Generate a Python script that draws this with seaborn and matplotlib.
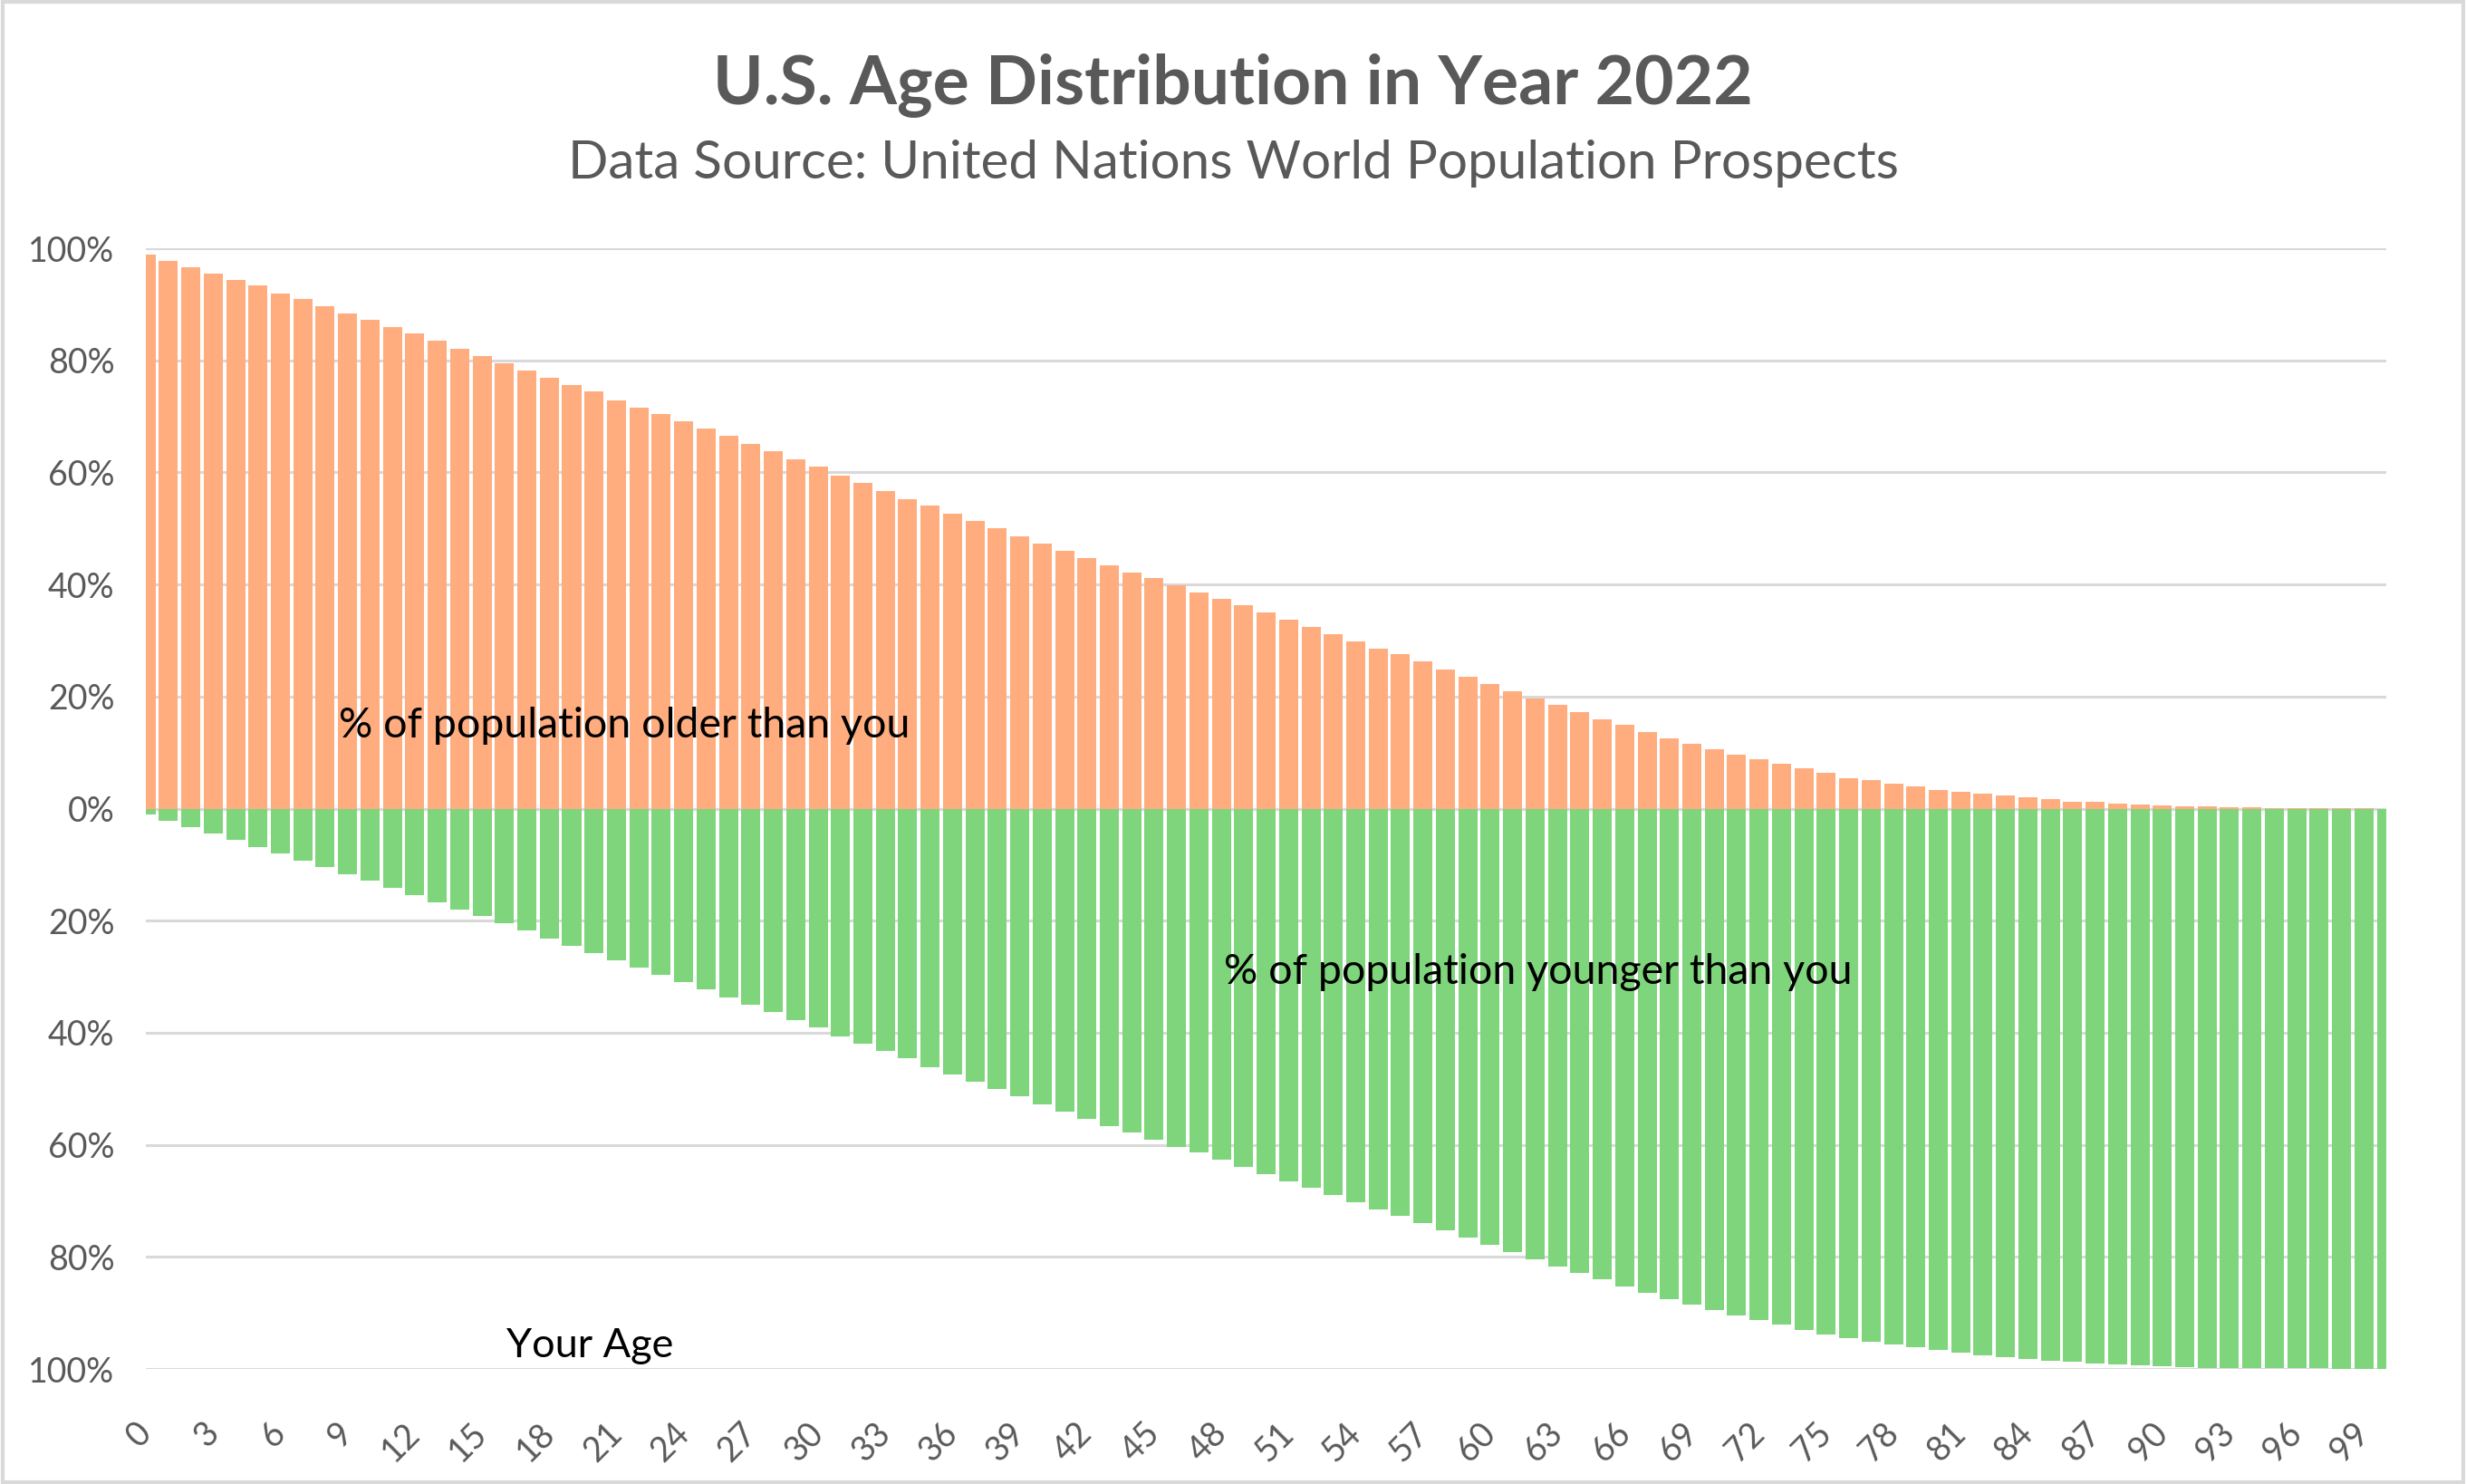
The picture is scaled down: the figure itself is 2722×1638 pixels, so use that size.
import numpy as np
import pandas as pd
import seaborn as sns
import matplotlib.pyplot as plt
import matplotlib.transforms as mtransforms
from matplotlib.patches import Rectangle

# ages 0..100 (age 100 is the half-clipped last bar)
ages = list(range(0, 101))

# % of population older than you
older = [98.9, 97.8, 96.6, 95.5, 94.4, 93.3, 92.0, 90.9, 89.6, 88.4,
         87.2, 85.9, 84.8, 83.5, 82.1, 80.8, 79.5, 78.2, 76.9, 75.6,
         74.4, 72.9, 71.6, 70.4, 69.1, 67.8, 66.5, 65.1, 63.8, 62.3,
         61.0, 59.5, 58.1, 56.6, 55.3, 54.1, 52.6, 51.3, 50.0, 48.6,
         47.3, 46.0, 44.7, 43.4, 42.2, 41.1, 39.8, 38.6, 37.5, 36.3,
         35.0, 33.7, 32.4, 31.1, 29.9, 28.6, 27.6, 26.3, 24.8, 23.6,
         22.3, 21.0, 19.7, 18.5, 17.2, 16.0, 14.9, 13.6, 12.6, 11.5,
         10.6, 9.6, 8.8, 8.0, 7.2, 6.4, 5.5, 5.1, 4.4, 3.9,
         3.4, 3.0, 2.6, 2.3, 2.0, 1.7, 1.3, 1.2, 0.9, 0.7,
         0.5, 0.4, 0.4, 0.2, 0.2, 0.1, 0.1, 0.05, 0.05, 0.03,
         0.0]

# % of population younger than you
younger = [1.1, 2.2, 3.3, 4.4, 5.6, 6.9, 8.0, 9.3, 10.4, 11.7,
           12.8, 14.1, 15.4, 16.7, 18.0, 19.2, 20.5, 21.8, 23.2, 24.5,
           25.8, 27.1, 28.4, 29.7, 31.0, 32.2, 33.7, 35.0, 36.3, 37.7,
           39.1, 40.6, 41.9, 43.3, 44.6, 46.1, 47.4, 48.7, 50.1, 51.4,
           52.7, 54.0, 55.3, 56.6, 57.8, 59.1, 60.3, 61.4, 62.7, 63.9,
           65.2, 66.5, 67.7, 69.0, 70.3, 71.5, 72.7, 74.0, 75.3, 76.6,
           77.8, 79.1, 80.4, 81.7, 82.8, 84.0, 85.3, 86.4, 87.5, 88.5,
           89.5, 90.4, 91.2, 92.0, 93.0, 93.8, 94.5, 95.1, 95.6, 96.1,
           96.6, 97.1, 97.5, 97.9, 98.2, 98.5, 98.7, 99.0, 99.2, 99.35,
           99.5, 99.7, 99.8, 99.8, 99.9, 99.9, 99.9, 99.9, 100.0, 100.0,
           100.0]

x_ticks = list(range(0, 100, 3))
y_ticks = [-100, -80, -60, -40, -20, 0, 20, 40, 60, 80, 100]

df = pd.DataFrame({"age": ages, "older": older, "younger": [-v for v in younger]})

sns.set_theme(style="white")
plt.rcParams["font.family"] = ["Lato", "DejaVu Sans"]

grey = "#595959"
fig = plt.figure(figsize=(27.22, 16.38), dpi=100)
ax = fig.add_axes([0.0592, 0.0775, 0.9085, 0.7552])

sns.barplot(data=df, x="age", y="older", color="#FFAC7F", saturation=1,
            width=0.85, linewidth=0, ax=ax, zorder=2)
sns.barplot(data=df, x="age", y="younger", color="#7ED57B", saturation=1,
            width=0.85, linewidth=0, ax=ax, zorder=2)

ax.set_xlim(0, 100)
ax.set_ylim(-100, 100)
ax.set_yticks(y_ticks)
ax.set_yticklabels([f"{abs(v)}%" for v in y_ticks], color=grey, fontsize=27)
ax.set_xticks(x_ticks)
ax.set_xticklabels([str(v) for v in x_ticks], rotation=45, ha="right",
                   color=grey, fontsize=27)
ax.tick_params(axis="x", length=0, pad=32)
ax.tick_params(axis="y", length=0, pad=25)
shift = mtransforms.ScaledTranslation(0.13, -0.08, fig.dpi_scale_trans)
for lab in ax.get_xticklabels():
    lab.set_transform(lab.get_transform() + shift)
ax.set_xlabel("")
ax.set_ylabel("")
ax.set_axisbelow(True)
ax.yaxis.grid(True, color="#D9D9D9", linewidth=2.2)
for s in ax.spines.values():
    s.set_visible(False)

ax.text(8.6, 14.8, "% of population older than you", fontsize=33.5,
        color="black", va="center", ha="left")
ax.text(48.1, -29.1, "% of population younger than you", fontsize=33.5,
        color="black", va="center", ha="left")
ax.text(16.1, -95.9, "Your Age", fontsize=32.5, color="black",
        va="center", ha="left")

fig.text(0.5, 1 - 115 / 1638, "U.S. Age Distribution in Year 2022",
         fontsize=54, fontweight="bold", color=grey, ha="center", va="baseline")
fig.text(0.5, 1 - 197 / 1638,
         "Data Source: United Nations World Population Prospects",
         fontsize=42, color=grey, ha="center", va="baseline")

fig.patches.append(Rectangle((0.001, 0.001), 0.998, 0.998, transform=fig.transFigure,
                             fill=False, edgecolor="#D9D9D9", linewidth=3))

plt.savefig("out.png", dpi=100)
